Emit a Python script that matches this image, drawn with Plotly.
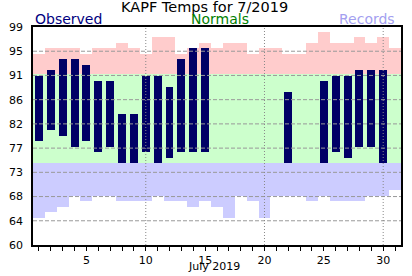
import plotly.graph_objects as go

days = list(range(1, 32))

obs_high = [91, 92, 94, 94, 93, 90, 90, 84, 84, 91, 91, 89, 94, 96, 96,
            None, None, None, None, None, None, 88, None, None,
            90, 91, 91, 92, 92, 92, None]
obs_low = [79, 81, 80, 78, 79, 77, 78, 75, 75, 77, 75, 76, 77, 77, 77,
           None, None, None, None, None, None, 75, None, None,
           75, 77, 76, 78, 78, 75, None]

normal_high = [91.3, 91.3, 91.3, 91.3, 91.3, 91.3, 91.3, 91.3, 91.3, 91.3, 91.3,
               91.3, 91.3, 91.3, 91.3, 91.3, 91.3, 91.3, 91.3, 91.3, 91.3, 91.3,
               91.3, 91.3, 91.3, 91.3, 91.3, 91.3, 91.3, 91.3, 91.3]
normal_low = [75, 75, 75, 75, 75, 75, 75, 75, 75, 75, 75, 75, 75, 75, 75, 75,
              75, 75, 75, 75, 75, 75, 75, 75, 75, 75, 75, 75, 75, 75, 75]

record_high = [95, 96, 96, 96, 95, 96, 96, 97, 96, 95, 98, 98, 95, 96, 97, 96,
               97, 97, 95, 96, 96, 95, 95, 97, 99, 97, 97, 98, 97, 98, 96]
record_low = [65, 66, 67, 69, 68, 69, 69, 68, 68, 68, 69, 68, 68, 67, 68, 67,
              65, 69, 68, 65, 69, 69, 69, 68, 69, 68, 68, 68, 69, 69, 70]

y_min, y_max = 60, 99.9
y_ticktext = ["60", "64", "68", "73", "77", "82", "86", "91", "95", "99"]
y_tickvals = [y_min + i * (y_max - y_min) / 9 for i in range(10)]
x_tickvals = [5, 10, 15, 20, 25, 30]
x_gridlines = [10, 20, 30]

FONT = "DejaVu Sans"

fig = go.Figure()

# records: pink above normals, lavender below
fig.add_trace(go.Bar(x=days, base=normal_high,
                     y=[h - n for h, n in zip(record_high, normal_high)],
                     width=1, marker_color="#ffcccc", marker_line_width=0))
fig.add_trace(go.Bar(x=days, base=record_low,
                     y=[n - l for n, l in zip(normal_low, record_low)],
                     width=1, marker_color="#ccccff", marker_line_width=0))
# normals
fig.add_trace(go.Bar(x=days, base=normal_low,
                     y=[h - l for h, l in zip(normal_high, normal_low)],
                     width=1, marker_color="#ccffcc", marker_line_width=0))
# observed
fig.add_trace(go.Bar(x=days, base=obs_low,
                     y=[None if h is None else h - l for h, l in zip(obs_high, obs_low)],
                     width=0.67, marker_color="#000066", marker_line_width=0))

for v in y_tickvals[1:-1]:
    fig.add_shape(type="line", xref="paper", x0=0, x1=1, y0=v, y1=v,
                  line=dict(color="#999999", width=1, dash="4px,2px"), layer="above")
for d in x_gridlines:
    fig.add_shape(type="line", yref="paper", y0=0, y1=1, x0=d, x1=d,
                  line=dict(color="#888888", width=1, dash="1px,2px"), layer="above")

fig.add_annotation(text="KAPF Temps for 7/2019", xref="paper", yref="paper",
                   x=0.466, y=1.091, xanchor="center", yanchor="middle",
                   showarrow=False, font=dict(size=14.5, color="black", family=FONT))
fig.add_annotation(text="Observed", xref="paper", yref="paper",
                   x=0, y=1.035, xanchor="left", yanchor="middle",
                   showarrow=False, font=dict(size=14, color="#000080", family=FONT))
fig.add_annotation(text="Normals", xref="paper", yref="paper",
                   x=0.508, y=1.035, xanchor="center", yanchor="middle",
                   showarrow=False, font=dict(size=14, color="#008000", family=FONT))
fig.add_annotation(text="Records", xref="paper", yref="paper",
                   x=0.989, y=1.035, xanchor="right", yanchor="middle",
                   showarrow=False, font=dict(size=14, color="#a49ff0", family=FONT))
fig.add_annotation(text="July 2019", xref="paper", yref="paper",
                   x=0.492, y=-0.097, xanchor="center", yanchor="middle",
                   showarrow=False, font=dict(size=11, color="black", family=FONT))

fig.update_layout(
    width=412, height=276,
    margin=dict(l=31, r=9, t=27, b=29),
    barmode="overlay",
    bargap=0,
    showlegend=False,
    hovermode=False,
    paper_bgcolor="white",
    plot_bgcolor="white",
    font=dict(family=FONT, size=11, color="black"),
    xaxis=dict(range=[0.5, 31.5], tickvals=x_tickvals, ticks="outside", ticklen=4,
               tickcolor="black", showgrid=False, zeroline=False,
               showline=True, linecolor="black", linewidth=1.5, mirror=True,
               minor=dict(dtick=1, tick0=0, ticks="outside", ticklen=4, tickcolor="black"),
               tickfont=dict(size=11)),
    yaxis=dict(range=[y_min, y_max], tickvals=y_tickvals, ticktext=y_ticktext,
               ticks="", showgrid=False, zeroline=False,
               showline=True, linecolor="black", linewidth=1.5, mirror=True,
               ticklabelstandoff=6, tickfont=dict(size=11)),
)

# the default page has an 8px body margin, drop it so the figure sits at 0,0
fig.write_html("out.html", config={"displayModeBar": False},
               post_script="document.body.style.margin='0';")
